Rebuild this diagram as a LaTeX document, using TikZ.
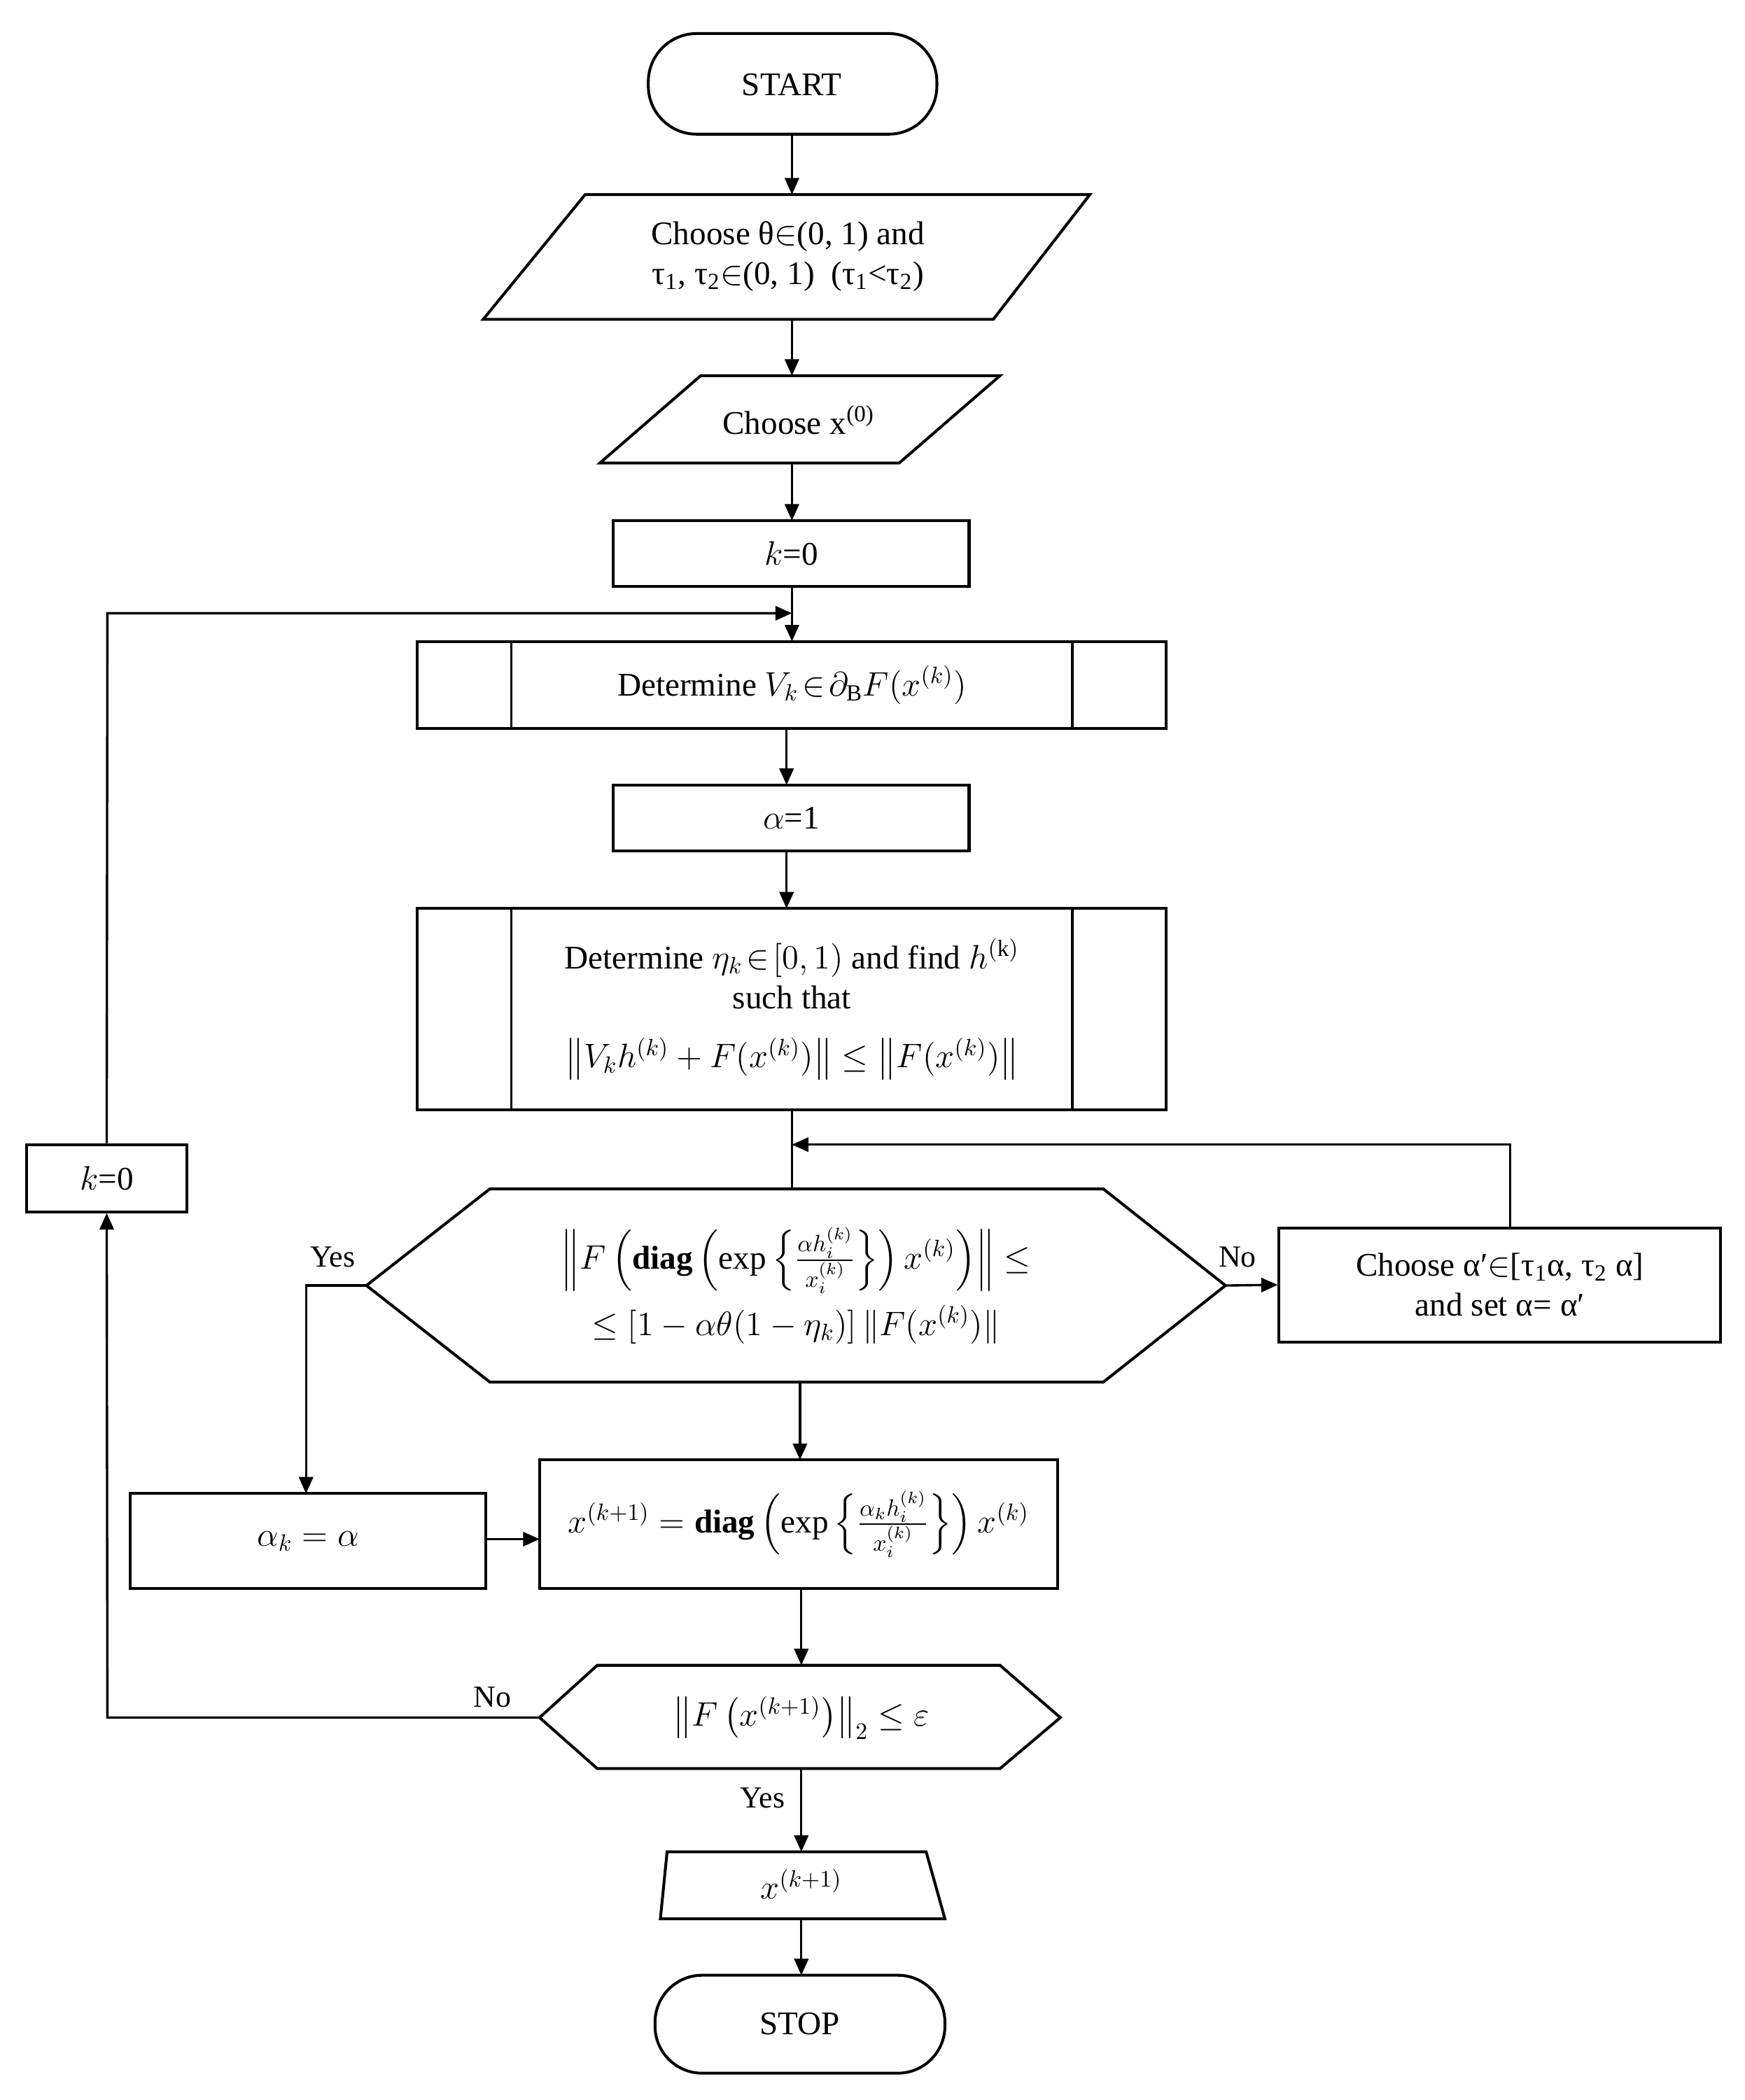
\documentclass[tikz,border=0pt]{standalone}
\usepackage{amsmath}
\usepackage{fontspec}
\setmainfont{Liberation Serif}
\usetikzlibrary{arrows.meta}
\begin{document}
\begin{tikzpicture}[x=0.02cm,y=-0.02cm,
  every node/.style={font=\fontsize{14}{17}\selectfont},
  shp/.style={draw,line width=1.2pt},
  box/.style={draw,line width=1.2pt,rectangle,inner sep=0pt,align=center},
  ar/.style={line width=1pt,-{Triangle[length=7pt,width=6pt]}},
  ln/.style={line width=1pt},
  lbl/.style={font=\fontsize{13}{15}\selectfont}]
\useasboundingbox (0,0) rectangle (1300,1565);
% START
\draw[shp,rounded corners=20.5pt] (483,25) rectangle (698,100);
\node (start) at (590,63) {START};
\coordinate (startb) at (590,100);
% parallelogram 1
\draw[shp] (360,238) -- (436,145) -- (812,145) -- (740,238) -- cycle;
\node[align=center] (p1) at (587,191) {Choose θ$\in$(0, 1) and\\τ\textsubscript{1}, τ\textsubscript{2}$\in$(0, 1)\ \ (τ\textsubscript{1}<τ\textsubscript{2})};
\coordinate (p1t) at (590,145); \coordinate (p1b) at (590,238);
% parallelogram 2
\draw[shp] (447,345) -- (522,280) -- (745,280) -- (670,345) -- cycle;
\node (p2) at (595,313) {Choose x\textsuperscript{(0)}};
\coordinate (p2t) at (590,280); \coordinate (p2b) at (590,345);
% k=0
\node[box,minimum width=265*0.02cm,minimum height=49*0.02cm] (k0) at (589.5,412.5) {$k$=0};
% Determine V
\node[box,minimum width=558*0.02cm,minimum height=65*0.02cm] (dv) at (590,510.5) {Determine $V_k\!\in\!\partial_{\mathrm{B}}F(x^{(k)})$};
\draw[ln] (381,478) -- (381,543) (799,478) -- (799,543);
% alpha=1
\node[box,minimum width=265*0.02cm,minimum height=49*0.02cm] (a1) at (589.5,609.5) {$\alpha$=1};
% Determine eta
\node[box,minimum width=558*0.02cm,minimum height=150*0.02cm] (de) at (590,752) {};
\draw[ln] (381,677) -- (381,827) (799,677) -- (799,827);
\node[align=center] at (590,752) {Determine $\eta_k\!\in\![0, 1)$ and find $h^{(\mathrm{k})}$\\such that\\[8pt]$\left\|V_kh^{(k)}+F(x^{(k)})\right\|\le\left\|F(x^{(k)})\right\|$};
% hexagon 1
\draw[shp] (273,958) -- (365,886) -- (822,886) -- (913,958) -- (822,1030) -- (365,1030) -- cycle;
\node[align=center] (h1) at (593,958) {$\left\|F\left(\mathbf{diag}\left(\exp\left\{\frac{\alpha h_i^{(k)}}{x_i^{(k)}}\right\}\right)x^{(k)}\right)\right\|\le$\\[4pt]$\le[1-\alpha\theta(1-\eta_k)]\,\|F(x^{(k)})\|$};
\coordinate (h1l) at (273,958); \coordinate (h1r) at (913,958);
% choose alpha'
\node[box,minimum width=329*0.02cm,minimum height=85*0.02cm] (ca) at (1117.5,957.5) {Choose α′$\in$[τ\textsubscript{1}α, τ\textsubscript{2} α]\\and set α= α′};
\coordinate (cat) at (1125,915);
% left k=0
\node[box,minimum width=119*0.02cm,minimum height=50*0.02cm] (k0b) at (79.5,878) {$k$=0};
% alpha_k
\node[box,minimum width=265*0.02cm,minimum height=71*0.02cm] (ak) at (229.5,1148.5) {$\alpha_k=\alpha$};
% x update
\node[box,minimum width=386*0.02cm,minimum height=96*0.02cm] (xu) at (595,1136) {$x^{(k+1)}=\mathbf{diag}\left(\exp\left\{\frac{\alpha_k h_i^{(k)}}{x_i^{(k)}}\right\}\right)x^{(k)}$};
% hexagon 2
\draw[shp] (402,1280) -- (445,1241) -- (745,1241) -- (790,1280) -- (745,1318) -- (445,1318) -- cycle;
\node (h2) at (597,1280) {$\left\|F\left(x^{(k+1)}\right)\right\|_2\le\varepsilon$};
\coordinate (h2l) at (402,1280);
% trapezoid
\draw[shp] (492,1430) -- (497,1380) -- (690,1380) -- (704,1430) -- cycle;
\node (out) at (597,1404) {$x^{(k+1)}$};
% STOP
\draw[shp,rounded corners=20pt] (488,1472) rectangle (704,1545);
\node (stop) at (596,1508) {STOP};
% connectors
\draw[ar] (startb) -- (p1t);
\draw[ar] (p1b) -- (p2t);
\draw[ar] (p2b) -- (590,388);
\draw[ar] (590,437) -- (590,478);
\draw[ar] (k0b.north) -- (80,457) -- (590,457);
\draw[ar] (586,543) -- (586,585);
\draw[ar] (586,634) -- (586,677);
\draw[ln] (590,827) -- (590,886);
\draw[ar] (cat) -- (1125,853) -- (590,853);
\draw[ar] (h1r) -- (ca.west);
\node[lbl] at (922,937) {No};
\draw[ar] (h1l) -- (228,958) -- (228,1113);
\node[lbl] at (248,937) {Yes};
\draw[ar] (596,1030) -- (596,1088);
\draw[ar] (362,1147) -- (402,1147);
\draw[ar] (597,1184) -- (597,1241);
\draw[ar] (h2l) -- (80,1280) -- (k0b.south);
\node[lbl] at (367,1265) {No};
\draw[ar] (597,1318) -- (597,1380);
\node[lbl] at (568,1340) {Yes};
\draw[ar] (597,1430) -- (597,1472);
\end{tikzpicture}
\end{document}
